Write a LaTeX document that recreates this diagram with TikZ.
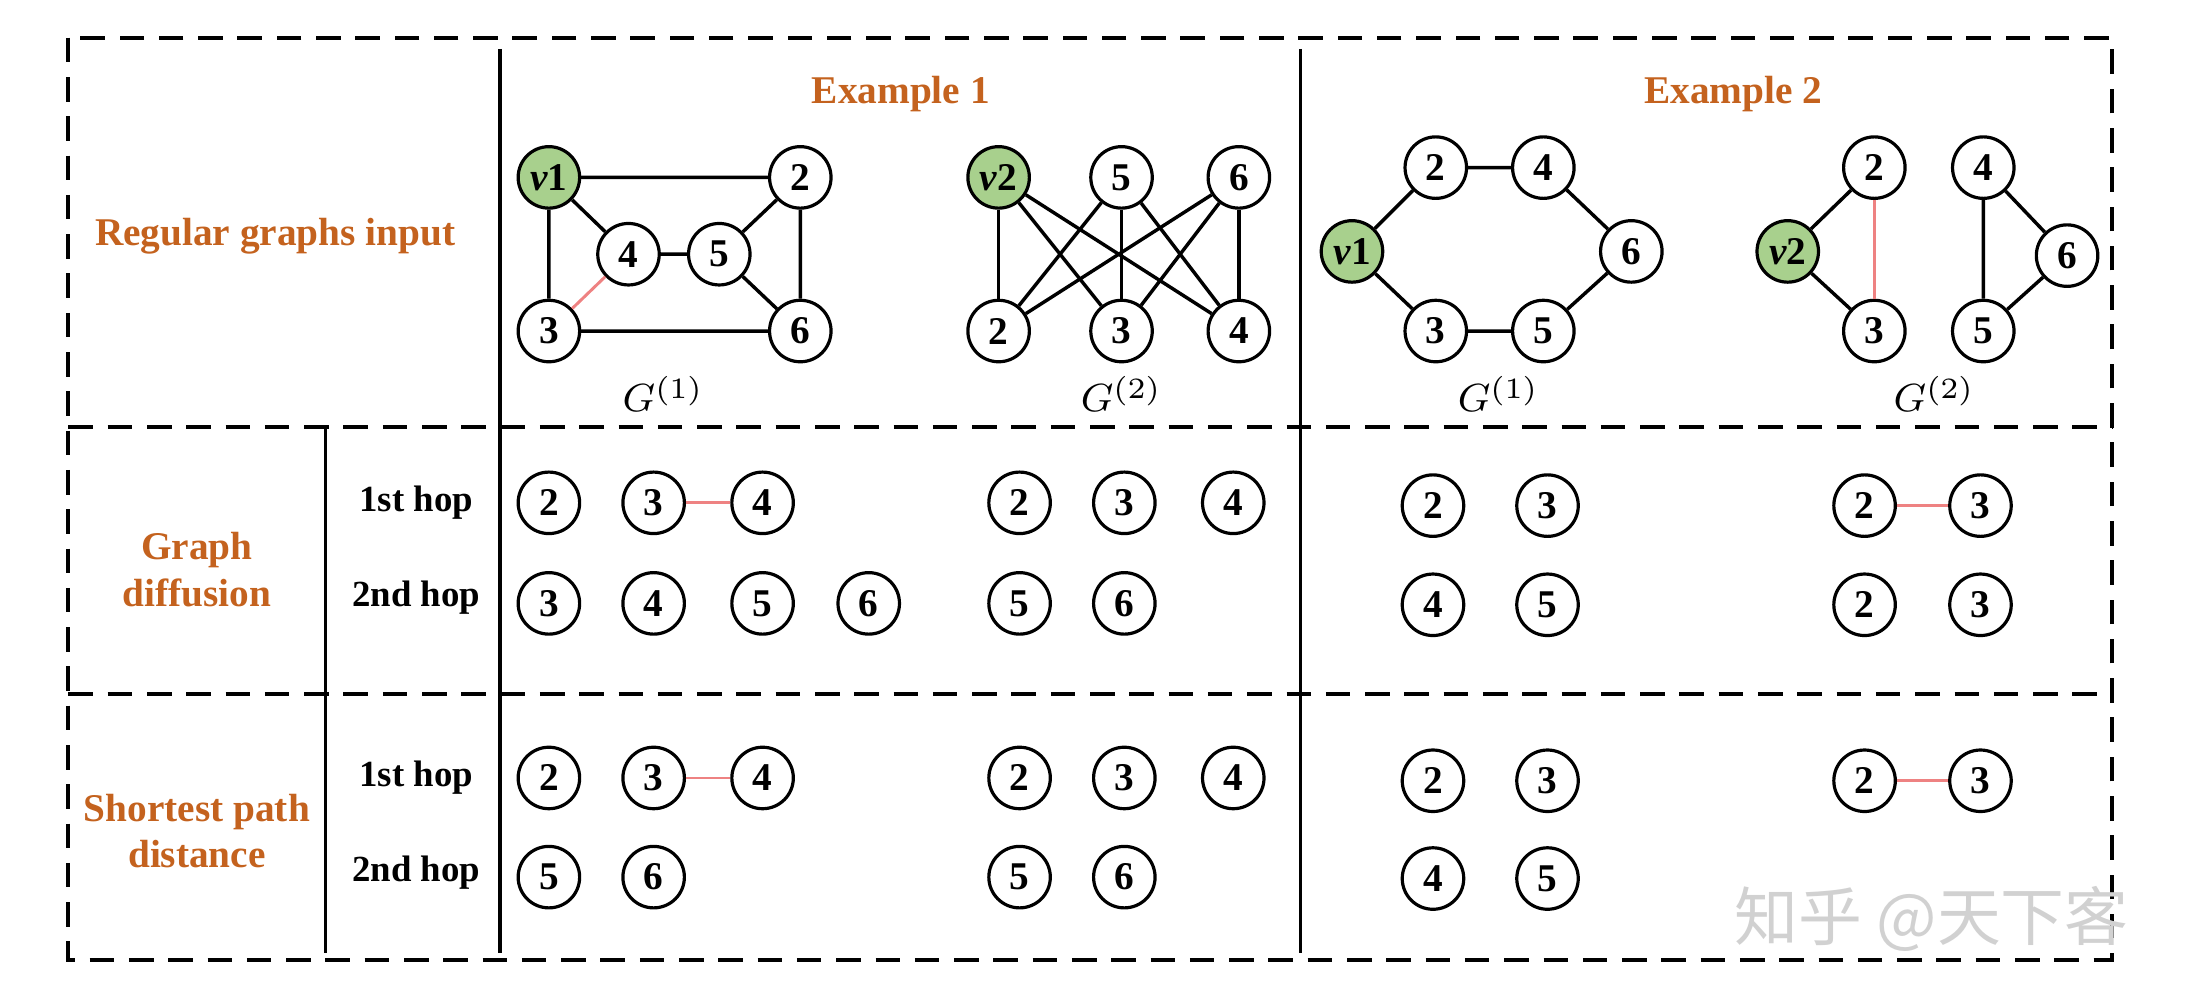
\documentclass[tikz,border=0pt]{standalone}
\usepackage{fontspec}
\setmainfont{Liberation Serif}
\newfontfamily\cjkf{Noto Sans CJK SC}
\begin{document}
\begin{tikzpicture}[x=0.01cm,y=-0.01cm,
  vx/.style={circle,draw,line width=0.65pt,minimum size=0.44cm,inner sep=0pt,font=\fontsize{8}{9}\selectfont\bfseries,fill=white},
  gv/.style={vx,fill=green!30!lime!40!gray!60,fill={rgb,255:red,168;green,208;blue,141}},
  ed/.style={line width=0.7pt},
  red/.style={line width=0.6pt,draw={rgb,255:red,238;green,130;blue,130}},
  hd/.style={font=\fontsize{8}{9.5}\selectfont\bfseries,text={rgb,255:red,196;green,98;blue,30},align=center},
  hop/.style={font=\fontsize{7.5}{9}\selectfont\bfseries},
  gl/.style={font=\fontsize{8}{9}\selectfont},
  dsh/.style={dashed,line width=0.8pt,dash pattern=on 5pt off 3pt},
  sl/.style={line width=0.7pt}]
\useasboundingbox (0,0) rectangle (1568,720);
\draw[dsh] (49,27) rectangle (1512,687);
\draw[dsh] (49,306) -- (1512,306);
\draw[dsh] (49,497) -- (1512,497);
\coordinate (a1) at (358,35); \coordinate (a2) at (358,682);
\coordinate (b1) at (931,35); \coordinate (b2) at (931,682);
\coordinate (c1) at (233,307); \coordinate (c2) at (233,682);
\draw[sl] (a1)--(a2); \draw[sl] (b1)--(b2); \draw[sl] (c1)--(c2);
\node[hd] (e1) at (645,67) {Example 1};
\node[hd] (e2) at (1241,67) {Example 2};
\node[hd] (rg) at (197,169) {Regular graphs input};
\node[hd] (gd) at (141,408) {Graph\\diffusion};
\node[hd] (sp) at (141,595) {Shortest path\\distance};
\node[hop] (h1) at (298,360) {1st hop};
\node[hop] (h2) at (298,428) {2nd hop};
\node[hop] (h3) at (298,557) {1st hop};
\node[hop] (h4) at (298,625) {2nd hop};
% Example 1 G1
\node[gv] (A1) at (393,127) {\textit{v}1};
\node[vx] (A2) at (573,127) {2};
\node[vx] (A4) at (450,182) {4};
\node[vx] (A5) at (515,182) {5};
\node[vx] (A3) at (393,237) {3};
\node[vx] (A6) at (573,237) {6};
\draw[ed] (A1)--(A2) (A1)--(A3) (A1)--(A4) (A4)--(A5) (A5)--(A2) (A5)--(A6) (A2)--(A6) (A3)--(A6);
\draw[red] (A3)--(A4);
\node[gl] (gA) at (475,282) {$G^{(1)}$};
% Example 1 G2
\node[gv] (B1) at (715,127) {\textit{v}2};
\node[vx] (B5) at (803,127) {5};
\node[vx] (B6) at (887,127) {6};
\node[vx] (B2) at (715,237) {2};
\node[vx] (B3) at (803,237) {3};
\node[vx] (B4) at (887,237) {4};
\foreach \u in {B1,B5,B6}\foreach \w in {B2,B3,B4}{\draw[ed] (\u)--(\w);}
\node[gl] (gB) at (803,282) {$G^{(2)}$};
% Example 2 G1
\node[gv] (C1) at (968,180) {\textit{v}1};
\node[vx] (C2) at (1028,120) {2};
\node[vx] (C4) at (1105,120) {4};
\node[vx] (C6) at (1168,180) {6};
\node[vx] (C5) at (1105,237) {5};
\node[vx] (C3) at (1028,237) {3};
\draw[ed] (C1)--(C2)--(C4)--(C6)--(C5)--(C3)--(C1);
\node[gl] (gC) at (1073,282) {$G^{(1)}$};
% Example 2 G2
\node[gv] (D1) at (1280,180) {\textit{v}2};
\node[vx] (D2) at (1342,120) {2};
\node[vx] (D3) at (1342,237) {3};
\node[vx] (D4) at (1420,120) {4};
\node[vx] (D6) at (1480,183) {6};
\node[vx] (D5) at (1420,237) {5};
\draw[ed] (D1)--(D2) (D1)--(D3) (D4)--(D6) (D6)--(D5) (D4)--(D5);
\draw[red] (D2)--(D3);
\node[gl] (gD) at (1385,282) {$G^{(2)}$};
% Graph diffusion
\node[vx] (p1) at (393,360) {2};
\node[vx] (p2) at (468,360) {3};
\node[vx] (p3) at (546,360) {4};
\draw[red] (p2)--(p3);
\node[vx] (p4) at (730,360) {2};
\node[vx] (p5) at (805,360) {3};
\node[vx] (p6) at (883,360) {4};
\node[vx] (p7) at (1026,362) {2};
\node[vx] (p8) at (1108,362) {3};
\node[vx] (p9) at (1335,362) {2};
\node[vx] (p10) at (1418,362) {3};
\draw[red] (p9)--(p10);
\node[vx] (q1) at (393,432) {3};
\node[vx] (q2) at (468,432) {4};
\node[vx] (q3) at (546,432) {5};
\node[vx] (q4) at (622,432) {6};
\node[vx] (q5) at (730,432) {5};
\node[vx] (q6) at (805,432) {6};
\node[vx] (q7) at (1026,433) {4};
\node[vx] (q8) at (1108,433) {5};
\node[vx] (q9) at (1335,433) {2};
\node[vx] (q10) at (1418,433) {3};
% Shortest path
\node[vx] (r1) at (393,557) {2};
\node[vx] (r2) at (468,557) {3};
\node[vx] (r3) at (546,557) {4};
\draw[red] (r2)--(r3);
\node[vx] (r4) at (730,557) {2};
\node[vx] (r5) at (805,557) {3};
\node[vx] (r6) at (883,557) {4};
\node[vx] (r7) at (1026,559) {2};
\node[vx] (r8) at (1108,559) {3};
\node[vx] (r9) at (1335,559) {2};
\node[vx] (r10) at (1418,559) {3};
\draw[red] (r9)--(r10);
\node[vx] (s1) at (393,628) {5};
\node[vx] (s2) at (468,628) {6};
\node[vx] (s3) at (730,628) {5};
\node[vx] (s4) at (805,628) {6};
\node[vx] (s5) at (1026,629) {4};
\node[vx] (s6) at (1108,629) {5};
\node[font=\cjkf\fontsize{13}{14}\selectfont,text=black!18] (wm) at (1383,658) {知乎 @天下客};
\end{tikzpicture}
\end{document}
